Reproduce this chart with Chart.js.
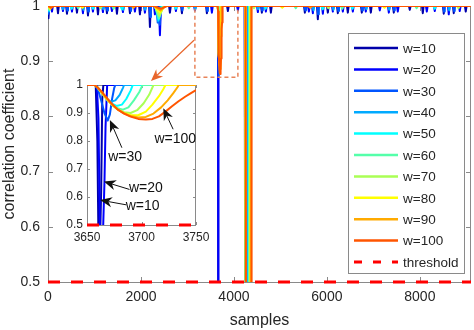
<!DOCTYPE html>
<html>
<head>
<meta charset="utf-8">
<script src="https://cdn.jsdelivr.net/npm/chart.js@4/dist/chart.umd.min.js"></script>
<style>
  html, body { margin: 0; padding: 0; background: #fff; }
  #wrap { position: relative; width: 474px; height: 330px; }
  #main { position: absolute; left: 0; top: 0; }
  #zoom { position: absolute; left: 50px; top: 70px; }
</style>
</head>
<body>
<div id="wrap">
  <canvas id="main" width="474" height="330"></canvas>
  <canvas id="zoom" width="160" height="180"></canvas>
</div>
<script>
// axis limits and ticks
const xMin = 0, xMax = 9100;
const zoomMin = 3650, zoomMax = 3750;
const yMin = 0.5, yMax = 1;
const xTicks = [0, 2000, 4000, 6000, 8000];
const yTicks = [0.5, 0.6, 0.7, 0.8, 0.9, 1];
const zoomTicks = [3650, 3700, 3750];
const threshold = 0.5;

const windowLabels = ['w=10', 'w=20', 'w=30', 'w=40', 'w=50', 'w=60', 'w=70', 'w=80', 'w=90', 'w=100'];
const thresholdLabel = 'threshold';

// small dips along the whole record, [sample, r]
const w10Noise = [[0,1],[10,0.978],[28,1],[197,1],[215,0.987],[233,1],[390,1],[408,0.986],[426,1],
  [605,1],[623,0.988],[641,1],[842,1],[860,0.983],[878,1],[1057,1],[1075,0.985],[1093,1],
  [1250,1],[1268,0.987],[1286,1],[1465,1],[1483,0.986],[1501,1],[1745,1],[1763,0.987],[1781,1],
  [1960,1],[1978,0.985],[1996,1],[2175,1],[2193,0.962],[2211,1],[2605,1],[2623,0.988],[2641,1],
  [2863,1],[2881,0.987],[2899,1],[3400,1],[3418,0.987],[3436,1],[3852,1],[3870,0.991],[3888,1],
  [4583,1],[4601,0.988],[4619,1],[4777,1],[4795,0.988],[4813,1],[5508,1],[5526,0.988],[5544,1],
  [5787,1],[5805,0.976],[5823,1],[6002,1],[6020,0.988],[6038,1],[6217,1],[6235,0.987],[6253,1],
  [6432,1],[6450,0.988],[6468,1],[6733,1],[6751,0.988],[6769,1],[6927,1],[6945,0.988],[6963,1],
  [7421,1],[7439,0.988],[7457,1],[7765,1],[7783,0.993],[7801,1],[8045,1],[8063,0.987],[8081,1],
  [8496,1],[8514,0.986],[8532,1],[8711,1],[8729,0.987],[8747,1],[8969,1],[8987,0.99],[9005,1],[9100,1]];
const w20Noise = [[0,1],[68,1],[86,0.99],[104,1],[304,1],[322,0.991],[340,1],[498,1],[516,0.99],[534,1],
  [734,1],[752,0.987],[770,1],[949,1],[967,0.99],[985,1],[1164,1],[1182,0.989],[1200,1],
  [1358,1],[1376,0.991],[1394,1],[1594,1],[1612,0.989],[1630,1],[1852,1],[1870,0.99],[1888,1],
  [2067,1],[2085,0.988],[2103,1],[2282,1],[2300,0.985],[2318,1],[2385,1],[2408,0.947],[2430,1],
  [2734,1],[2752,0.991],[2770,1],[3142,1],[3160,0.992],[3178,1],[3508,1],[3526,0.988],[3544,1],
  [4067,1],[4085,0.992],[4103,1],[4497,1],[4515,0.989],[4533,1],[4669,1],[4687,0.99],[4705,1],
  [5594,1],[5612,0.99],[5630,1],[5680,1],[5698,0.987],[5716,1],[5895,1],[5913,0.986],[5931,1],
  [6110,1],[6128,0.99],[6146,1],[6325,1],[6343,0.99],[6361,1],[6540,1],[6558,0.99],[6576,1],
  [6819,1],[6837,0.99],[6855,1],[7120,1],[7138,0.992],[7156,1],[7314,1],[7332,0.988],[7350,1],
  [7507,1],[7525,0.99],[7543,1],[8131,1],[8149,0.99],[8167,1],[8303,1],[8321,0.991],[8339,1],
  [8604,1],[8622,0.985],[8640,1],[8840,1],[8858,0.991],[8876,1],[9100,1]];
const w30Noise = [[0,1],[12,0.986],[30,1],[400,1],[415,0.992],[430,1],[850,1],[865,0.99],[880,1],
  [1260,1],[1275,0.992],[1290,1],[1770,1],[1785,0.991],[1800,1],[2185,1],[2200,0.98],[2215,1],
  [2330,1],[2360,0.97],[2380,0.978],[2405,0.966],[2430,1],[2875,1],[2890,0.992],[2905,1],
  [3410,1],[3425,0.991],[3440,1],[4590,1],[4605,0.992],[4620,1],[5520,1],[5535,0.992],[5550,1],
  [5795,1],[5810,0.985],[5825,1],[6230,1],[6245,0.991],[6260,1],[6745,1],[6760,0.992],[6775,1],
  [7430,1],[7445,0.992],[7460,1],[8505,1],[8520,0.99],[8535,1],[8720,1],[8735,0.991],[8750,1],[9100,1]];
const w40Noise = [[0,1],[20,0.99],[45,1],[300,1],[320,0.994],[340,1],[740,1],[760,0.993],[780,1],
  [1170,1],[1190,0.994],[1210,1],[1600,1],[1620,0.993],[1640,1],[2070,1],[2090,0.993],[2110,1],
  [2320,1],[2370,0.972],[2420,1],[3150,1],[3170,0.994],[3190,1],[4500,1],[4520,0.994],[4540,1],
  [5690,1],[5710,0.992],[5730,1],[6120,1],[6140,0.993],[6160,1],[6830,1],[6850,0.994],[6870,1],
  [7320,1],[7340,0.993],[7360,1],[8610,1],[8630,0.992],[8650,1],[9100,1]];
const w50Noise = [[0,1],[25,0.992],[55,1],[480,1],[510,0.995],[540,1],[940,1],[970,0.995],[1000,1],
  [1560,1],[1590,0.994],[1620,1],[2310,1],[2380,0.975],[2450,1],[2720,1],[2750,0.995],[2780,1],
  [4650,1],[4680,0.995],[4710,1],[5880,1],[5910,0.994],[5940,1],[6520,1],[6550,0.995],[6580,1],
  [8290,1],[8320,0.995],[8350,1],[9100,1]];
const w60Noise = [[0,1],[30,0.993],[70,1],[620,1],[650,0.996],[680,1],[1380,1],[1410,0.995],[1440,1],
  [2300,1],[2390,0.978],[2470,1],[3000,1],[3030,0.996],[3060,1],[5300,1],[5330,0.996],[5360,1],
  [6300,1],[6330,0.995],[6360,1],[7900,1],[7930,0.996],[7960,1],[9100,1]];
const w70Noise = [[0,1],[40,0.994],[80,1],[1100,1],[1130,0.996],[1160,1],[2290,1],[2400,0.982],[2490,1],
  [4400,1],[4430,0.996],[4460,1],[6000,1],[6030,0.996],[6060,1],[8800,1],[8830,0.996],[8860,1],[9100,1]];
const w80Noise = [[0,1],[50,0.995],[90,1],[700,1],[740,0.997],[780,1],[2280,1],[2410,0.988],[2510,1],
  [5000,1],[5040,0.997],[5080,1],[7200,1],[7240,0.997],[7280,1],[9100,1]];
const w90Noise = [[0,1],[60,0.996],[110,1],[1800,1],[1840,0.997],[1880,1],[2280,1],[2420,0.992],[2530,1],
  [5600,1],[5640,0.997],[5680,1],[9100,1]];
const w100Noise = [[0,1],[70,0.997],[130,1],[2280,1],[2430,0.995],[2560,1],[9100,1]];

// first event, around sample 3660 (also shown in the zoomed axes)
const w10Event = [[3650,1],[3658,1],[3659.5,0.8],[3660.5,0.45],[3662,0.45],[3663,0.62],[3664,0.95],[3665,1],[3770,1]];
const w20Event = [[3650,1],[3659,1],[3660.5,0.88],[3662,0.45],[3664.5,0.45],[3666,0.65],[3667,0.85],[3668.5,1],[3770,1]];
const w30Event = [[3650,1],[3658,1],[3660,0.985],[3663,0.945],[3666,0.9],[3669,0.873],[3671,0.895],[3673,0.95],[3675,0.99],[3676,1],[3770,1]];
const w40Event = [[3650,1],[3657,1],[3660,0.99],[3664,0.97],[3668,0.95],[3672,0.94],[3676,0.945],[3680,0.965],[3683,0.99],[3684,1],[3770,1]];
const w50Event = [[3650,1],[3657,1],[3660,0.99],[3664,0.97],[3668,0.95],[3672,0.935],[3677,0.925],[3682,0.93],[3686,0.95],[3690,0.98],[3692,1],[3770,1]];
const w60Event = [[3650,1],[3657,1],[3660,0.99],[3664,0.97],[3668,0.95],[3673,0.93],[3678,0.917],[3683,0.912],[3688,0.92],[3693,0.945],[3698,0.975],[3701,1],[3770,1]];
const w70Event = [[3650,1],[3657,1],[3660,0.99],[3664,0.97],[3668,0.95],[3673,0.929],[3678,0.914],[3684,0.903],[3690,0.9],[3696,0.91],[3702,0.935],[3707,0.965],[3711,1],[3770,1]];
const w80Event = [[3650,1],[3657,1],[3660,0.99],[3664,0.97],[3668,0.95],[3673,0.929],[3678,0.913],[3684,0.9],[3690,0.892],[3697,0.892],[3704,0.905],[3710,0.93],[3716,0.96],[3720,0.985],[3722,1],[3770,1]];
const w90Event = [[3650,1],[3657,1],[3660,0.99],[3664,0.972],[3668,0.952],[3673,0.93],[3678,0.913],[3684,0.899],[3690,0.889],[3697,0.884],[3704,0.886],[3711,0.898],[3718,0.92],[3724,0.945],[3729,0.97],[3733,0.992],[3734,1],[3770,1]];
const w100Event = [[3650,1],[3657,1],[3660,0.99],[3664,0.974],[3668,0.955],[3673,0.932],[3678,0.913],[3684,0.898],[3690,0.887],[3697,0.879],[3704,0.877],[3710,0.879],[3716,0.888],[3722,0.905],[3728,0.924],[3734,0.942],[3740,0.958],[3745,0.97],[3750,0.982],[3756,0.992],[3762,1],[3770,1]];

// second event, all windows fall below the threshold
const w10Drop = [[4232,1],[4244,0.3],[4262,0.3],[4272,1]];
const w20Drop = [[4234,1],[4246,0.3],[4274,0.3],[4284,1]];
const w30Drop = [[4236,1],[4248,0.3],[4286,0.3],[4296,1]];
const w40Drop = [[4238,1],[4250,0.3],[4298,0.3],[4308,1]];
const w50Drop = [[4240,1],[4252,0.3],[4310,0.3],[4320,1]];
const w60Drop = [[4242,1],[4254,0.3],[4322,0.3],[4332,1]];
const w70Drop = [[4244,1],[4256,0.3],[4334,0.3],[4344,1]];
const w80Drop = [[4246,1],[4258,0.3],[4346,0.3],[4356,1]];
const w90Drop = [[4248,1],[4260,0.3],[4358,0.3],[4368,1]];
const w100Drop = [[4250,1],[4262,0.3],[4370,0.3],[4380,1]];

// callouts in the zoomed axes (data units)
const callouts = [
  { text: 'w=30', tx: 3685, ty: 0.743, x1: 3682, y1: 0.776, x2: 3671, y2: 0.875 },
  { text: 'w=20', tx: 3704, ty: 0.63, x1: 3689, y1: 0.627, x2: 3665.5, y2: 0.655 },
  { text: 'w=10', tx: 3701, ty: 0.566, x1: 3686, y1: 0.572, x2: 3662, y2: 0.589 },
  { text: 'w=100', tx: 3731, ty: 0.807, x1: 3729, y1: 0.842, x2: 3720, y2: 0.917 }
];
// dashed box around the first event and its arrow (data units)
const zoomBox = { x0: 3160, x1: 4085, y0: 0.871, y1: 0.995 };
const zoomArrow = { x1: 3140, y1: 0.938, x2: 2215, y2: 0.864 };

// jet colours, one per window
const lineColors = ['#0000aa', '#0000ff', '#0055ff', '#00aaff', '#00ffff',
                    '#55ffaa', '#aaff55', '#ffff00', '#ffaa00', '#ff5500'];

const noiseList = [w10Noise, w20Noise, w30Noise, w40Noise, w50Noise, w60Noise, w70Noise, w80Noise, w90Noise, w100Noise];
const eventList = [w10Event, w20Event, w30Event, w40Event, w50Event, w60Event, w70Event, w80Event, w90Event, w100Event];
const dropList = [w10Drop, w20Drop, w30Drop, w40Drop, w50Drop, w60Drop, w70Drop, w80Drop, w90Drop, w100Drop];

const FONT = "'Liberation Sans', Arial, Helvetica, sans-serif";
Chart.defaults.font.family = FONT;
Chart.defaults.color = '#262626';

const toPts = arr => arr.map(p => ({ x: p[0], y: p[1] }));

function seriesSets(full) {
  const sets = windowLabels.map((lab, i) => {
    const raw = full ? noiseList[i].concat(eventList[i], dropList[i]) : eventList[i].slice();
    raw.sort((a, b) => a[0] - b[0]);
    return {
      label: lab,
      data: toPts(raw),
      borderColor: lineColors[i],
      borderWidth: 2,
      borderJoinStyle: 'round',
      pointRadius: 0,
      order: 10 - i
    };
  });
  const lo = full ? xMin : zoomMin, hi = full ? xMax : zoomMax;
  sets.push({
    label: thresholdLabel,
    data: [{ x: lo, y: threshold }, { x: hi, y: threshold }],
    borderColor: '#ff0000',
    borderWidth: 3,
    borderDash: [12, 11],
    pointRadius: 0,
    clip: false,
    order: 0
  });
  return sets;
}

// axes box with inward tick marks
const boxAxes = {
  id: 'boxAxes',
  beforeDatasetsDraw(chart, args, o) {
    const { ctx, chartArea: a, scales: { x, y } } = chart;
    ctx.save();
    ctx.strokeStyle = '#8a8a8a';
    ctx.lineWidth = 1;
    ctx.strokeRect(a.left + 0.5, a.top + 0.5, a.right - a.left - 1, a.bottom - a.top);
    ctx.beginPath();
    x.ticks.forEach(t => {
      const px = Math.round(x.getPixelForValue(t.value)) + 0.5;
      ctx.moveTo(px, a.bottom); ctx.lineTo(px, a.bottom - o.len);
      ctx.moveTo(px, a.top); ctx.lineTo(px, a.top + o.len);
    });
    y.ticks.forEach(t => {
      const py = Math.round(y.getPixelForValue(t.value)) + 0.5;
      ctx.moveTo(a.left, py); ctx.lineTo(a.left + o.len, py);
      ctx.moveTo(a.right, py); ctx.lineTo(a.right - o.len, py);
    });
    ctx.stroke();
    ctx.restore();
  }
};

function arrow(ctx, x1, y1, x2, y2, color, len, half, width) {
  const ang = Math.atan2(y2 - y1, x2 - x1);
  const c = Math.cos(ang), s = Math.sin(ang);
  const bx = x2 - len * c, by = y2 - len * s;
  ctx.strokeStyle = color;
  ctx.fillStyle = color;
  ctx.lineWidth = width;
  ctx.beginPath();
  ctx.moveTo(x1, y1);
  ctx.lineTo(x2 - 0.7 * len * c, y2 - 0.7 * len * s);
  ctx.stroke();
  ctx.beginPath();
  ctx.moveTo(x2, y2);
  ctx.lineTo(bx - s * half, by + c * half);
  ctx.lineTo(x2 - 0.7 * len * c, y2 - 0.7 * len * s);
  ctx.lineTo(bx + s * half, by - c * half);
  ctx.closePath();
  ctx.fill();
}

// dashed box, arrow and legend on the main axes
const mainExtras = {
  id: 'mainExtras',
  afterDraw(chart, args, o) {
    const { ctx, scales: { x, y } } = chart;
    ctx.save();
    ctx.strokeStyle = '#e8845a';
    ctx.lineWidth = 1.5;
    ctx.setLineDash([4, 3]);
    const bx0 = x.getPixelForValue(zoomBox.x0), bx1 = x.getPixelForValue(zoomBox.x1);
    const by0 = y.getPixelForValue(zoomBox.y0), by1 = y.getPixelForValue(zoomBox.y1);
    ctx.beginPath();
    ctx.moveTo(bx0, by1); ctx.lineTo(bx0, by0); ctx.lineTo(bx1, by0); ctx.lineTo(bx1, by1);
    ctx.stroke();
    ctx.setLineDash([]);
    arrow(ctx, x.getPixelForValue(zoomArrow.x1), y.getPixelForValue(zoomArrow.y1),
          x.getPixelForValue(zoomArrow.x2), y.getPixelForValue(zoomArrow.y2), '#e8652b', 12, 5, 1.2);

    // legend
    const L = o.legend;
    ctx.fillStyle = '#fff';
    ctx.fillRect(L.left, L.top, L.width, L.height);
    ctx.strokeStyle = '#8a8a8a';
    ctx.lineWidth = 1;
    ctx.strokeRect(L.left + 0.5, L.top + 0.5, L.width, L.height);
    ctx.font = '13.5px ' + FONT;
    ctx.textBaseline = 'middle';
    chart.data.datasets.forEach((ds, i) => {
      const ly = L.top + L.first + i * L.step;
      ctx.strokeStyle = ds.borderColor;
      ctx.lineWidth = ds.borderDash ? 3 : 2.5;
      ctx.setLineDash(ds.borderDash ? [8, 11] : []);
      ctx.beginPath();
      ctx.moveTo(L.left + 6, ly);
      ctx.lineTo(L.left + 50, ly);
      ctx.stroke();
      ctx.setLineDash([]);
      ctx.fillStyle = '#262626';
      ctx.fillText(ds.label, L.left + 55, ly + 1);
    });
    ctx.restore();
  }
};

// arrows and labels inside the zoomed axes
const zoomExtras = {
  id: 'zoomExtras',
  afterDraw(chart) {
    const { ctx, scales: { x, y } } = chart;
    ctx.save();
    ctx.font = '14px ' + FONT;
    ctx.textAlign = 'center';
    ctx.textBaseline = 'middle';
    callouts.forEach(c => {
      arrow(ctx, x.getPixelForValue(c.x1), y.getPixelForValue(c.y1),
            x.getPixelForValue(c.x2), y.getPixelForValue(c.y2), '#111', 12, 5, 1);
      ctx.fillStyle = '#111';
      ctx.fillText(c.text, x.getPixelForValue(c.tx), y.getPixelForValue(c.ty));
    });
    ctx.restore();
  }
};

function axisOpts(ticks, fontSize, pad, size, horizontal, fmt) {
  return {
    type: 'linear',
    grid: { display: false, drawTicks: false },
    border: { display: false },
    ticks: { font: { size: fontSize }, padding: pad, maxRotation: 0, autoSkip: false, callback: fmt },
    afterBuildTicks: s => { s.ticks = ticks.map(v => ({ value: v })); },
    afterFit: s => {
      if (horizontal) { s.height = size; s.paddingLeft = 0; s.paddingRight = 0; }
      else { s.width = size; s.paddingTop = 0; s.paddingBottom = 0; }
    }
  };
}
const fmtX = v => String(v);
const fmtY = v => String(Number(v.toFixed(1)));

// main axes
const xMain = axisOpts(xTicks, 14, 7, 48, true, fmtX);
xMain.min = xMin; xMain.max = xMax;
xMain.title = { display: true, text: 'samples', font: { size: 16 }, padding: 0 };
const yMain = axisOpts(yTicks, 14, 8, 48, false, fmtY);
yMain.min = yMin; yMain.max = yMax;
yMain.title = { display: true, text: 'correlation coefficient', font: { size: 16 }, padding: 0 };

new Chart(document.getElementById('main'), {
  type: 'line',
  data: { datasets: seriesSets(true) },
  options: {
    responsive: false,
    animation: false,
    events: [],
    layout: { padding: { top: 6, right: 3, left: 0, bottom: 0 } },
    plugins: {
      legend: { display: false },
      tooltip: { enabled: false },
      boxAxes: { len: 5 },
      mainExtras: { legend: { left: 348, top: 33, width: 116, height: 240, first: 15, step: 21.4 } }
    },
    scales: { x: xMain, y: yMain }
  },
  plugins: [boxAxes, mainExtras]
});

// zoomed axes
const xZoom = axisOpts(zoomTicks, 12, 5, 25, true, fmtX);
xZoom.min = zoomMin; xZoom.max = zoomMax;
const yZoom = axisOpts(yTicks, 12, 4, 37, false, fmtY);
yZoom.min = yMin; yZoom.max = yMax;

new Chart(document.getElementById('zoom'), {
  type: 'line',
  data: { datasets: seriesSets(false) },
  options: {
    responsive: false,
    animation: false,
    events: [],
    layout: { padding: { top: 15, right: 14, left: 0, bottom: 0 } },
    plugins: {
      legend: { display: false },
      tooltip: { enabled: false },
      boxAxes: { len: 3 }
    },
    scales: { x: xZoom, y: yZoom }
  },
  plugins: [boxAxes, zoomExtras]
});
</script>
</body>
</html>
